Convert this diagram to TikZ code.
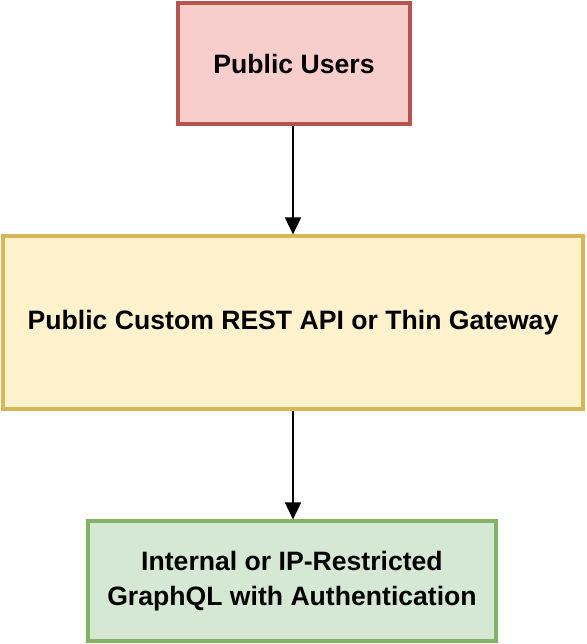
\documentclass[tikz,border=0pt]{standalone}
\usepackage{fontspec}
\setmainfont{Liberation Sans}
\usetikzlibrary{arrows.meta}
\definecolor{rfill}{HTML}{F8CECC}\definecolor{rdraw}{HTML}{B85450}
\definecolor{yfill}{HTML}{FFF2CC}\definecolor{ydraw}{HTML}{D6B656}
\definecolor{gfill}{HTML}{D5E8D4}\definecolor{gdraw}{HTML}{82B366}
\tikzset{
  box/.style={draw, line width=3.2pt, align=center, inner sep=0pt,
    font=\fontsize{26.6}{35}\selectfont\bfseries},
  conn/.style={line width=1.8pt, -{Triangle[length=17pt,width=16pt]}},
}
\begin{document}
\begin{tikzpicture}[x=1pt,y=-1pt]
\useasboundingbox (0,0) rectangle (586,644);
\node[box, fill=rfill, draw=rdraw, minimum width=232pt, minimum height=121pt] (users) at (294,63.5) {Public Users};
\node[box, fill=yfill, draw=ydraw, minimum width=580pt, minimum height=173pt] (api) at (293,322.5) {Public Custom REST API or Thin Gateway};
\node[box, fill=gfill, draw=gdraw, minimum width=408pt, minimum height=120pt] (gql) at (292,581) {Internal or IP-Restricted\\GraphQL with Authentication};
\draw[conn] (users.south -| 293,0) -- (api.north -| 293,0);
\draw[conn] (api.south -| 293,0) -- (gql.north -| 293,0);
\end{tikzpicture}
\end{document}
